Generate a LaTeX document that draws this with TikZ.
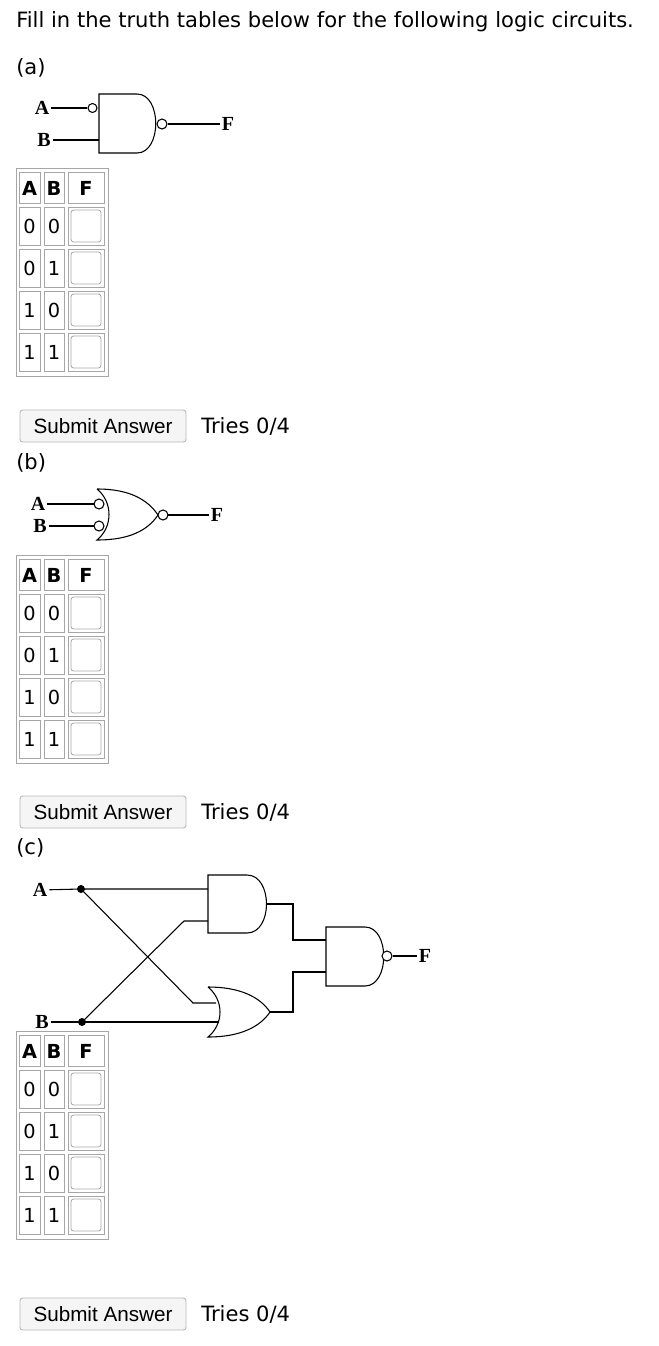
\documentclass[tikz,border=0pt]{standalone}
\usepackage{fontspec}
\setmainfont{DejaVu Sans}
\newfontfamily\gatefont{Liberation Serif}
\newfontfamily\btnfont{Liberation Sans}
\usetikzlibrary{positioning}
\tikzset{
  wire/.style={line width=0.8pt},
  gate/.style={line width=0.8pt},
  bubble/.style={line width=0.8pt, fill=white},
  pin/.style={font=\gatefont\bfseries\fontsize{15}{15}\selectfont, inner sep=1.5pt},
  cell/.style={draw=gray!70, line width=0.6pt},
  entry/.style={draw=gray!70, line width=0.6pt, rounded corners=2pt},
  txt/.style={font=\fontsize{15.8}{17}\selectfont, anchor=west, inner sep=0pt},
  btn/.style={draw=gray!55, fill=gray!8, rounded corners=2pt, line width=0.7pt}
}
\begin{document}
\begin{tikzpicture}[x=0.75pt, y=-0.75pt]
\useasboundingbox (0,0) rectangle (658,1346);
% truth table at vertical offset #1
\newcommand{\ttable}[1]{
  \begin{scope}[yshift=-0.75*#1]
    \draw[cell] (16,168) rectangle (108,376);
    \draw[cell] (19,172) rectangle (40,203);
    \draw[cell] (44,172) rectangle (64,203);
    \draw[cell] (68,172) rectangle (104,203);
    \node[font=\bfseries\fontsize{14.5}{14.5}\selectfont] at (29.5,188) {A};
    \node[font=\bfseries\fontsize{14.5}{14.5}\selectfont] at (54,188) {B};
    \node[font=\bfseries\fontsize{14.5}{14.5}\selectfont] at (86,188) {F};
    \foreach \a/\b [count=\i from 0] in {0/0,0/1,1/0,1/1} {
      \pgfmathsetmacro{\top}{207+42*\i}
      \draw[cell] (19,\top) rectangle (40,\top+38);
      \draw[cell] (44,\top) rectangle (64,\top+38);
      \draw[cell] (68,\top) rectangle (104,\top+38);
      \draw[entry] (71,\top+3) rectangle (101,\top+35);
      \node[font=\fontsize{14.5}{14.5}\selectfont] at (29.5,\top+19) {\a};
      \node[font=\fontsize{14.5}{14.5}\selectfont] at (54,\top+19) {\b};
    }
  \end{scope}
}
% submit button at vertical position #1
\newcommand{\submit}[1]{
  \draw[btn] (20,#1-16) rectangle (186,#1+16);
  \node[font=\btnfont\fontsize{15.5}{15.5}\selectfont] at (103,#1) {Submit Answer};
  \node[txt] at (201,#1) {Tries 0/4};
}

\node[txt] (title) at (16,22) {Fill in the truth tables below for the following logic circuits.};

%% (a)
\node[txt] (la) at (16,68) {(a)};
\node[pin] (aA) at (42,108) {A};
\node[pin] (aB) at (44,140) {B};
\node[pin] (aF) at (228,124) {F};
\coordinate (aIn) at (99,140);
\draw[gate] (99,94) -- (137,94) .. controls (162,94) and (162,153) .. (137,153) -- (99,153) -- cycle;
\draw[wire] (aA) -- (87,108);
\draw[wire] (aB) -- (aIn);
\draw[bubble] (92.5,108) circle (4.5);
\draw[wire] (168,124) -- (aF);
\draw[bubble] (162,124) circle (5);
\ttable{0}
\submit{426}

%% (b)
\node[txt] (lb) at (16,463) {(b)};
\node[pin] (bA) at (38,504) {A};
\node[pin] (bB) at (40,526) {B};
\node[pin] (bF) at (217,515) {F};
\draw[gate] (97,489) .. controls (130,489) and (148,500) .. (158,515)
  .. controls (148,530) and (130,540) .. (97,540)
  .. controls (113,527) and (113,502) .. (97,489);
\draw[wire] (bA) -- (94,504);
\draw[wire] (bB) -- (94,526);
\draw[bubble] (99,504) circle (5);
\draw[bubble] (99,526) circle (5);
\draw[wire] (168,515) -- (bF);
\draw[bubble] (163,515) circle (5);
\ttable{387}
\submit{812}

%% (c)
\node[txt] (lc) at (16,848) {(c)};
\node[pin] (cA) at (40,890) {A};
\node[pin] (cB) at (42,1022) {B};
\node[pin] (cF) at (425,956) {F};
\coordinate (dA) at (81,889);
\coordinate (dB) at (82,1022);
% AND gate
\draw[gate] (208,875) -- (247,875) .. controls (273,875) and (273,933) .. (247,933) -- (208,933) -- cycle;
% OR gate
\draw[gate] (208,987) .. controls (240,987) and (260,997) .. (270,1012)
  .. controls (260,1027) and (240,1037) .. (208,1037)
  .. controls (224,1024) and (224,1000) .. (208,987);
% NAND gate
\draw[gate] (326,927) -- (365,927) .. controls (390,927) and (390,986) .. (365,986) -- (326,986) -- cycle;
\draw[wire] (cA) -- (dA) -- (208,889);
\draw[wire] (cB) -- (dB) -- (219,1022);
\draw[wire] (dB) -- (184,921) -- (208,921);
\draw[wire] (dA) -- (193,1003) -- (216,1003);
\draw[wire] (267,904) -- (293,904) -- (293,940) -- (326,940);
\draw[wire] (270,1012) -- (293,1012) -- (293,972) -- (326,972);
\draw[wire] (393,956) -- (cF);
\draw[bubble] (387,956) circle (5);
\fill (dA) circle (4);
\fill (dB) circle (4);
\ttable{863}
\submit{1314}
\end{tikzpicture}
\end{document}
